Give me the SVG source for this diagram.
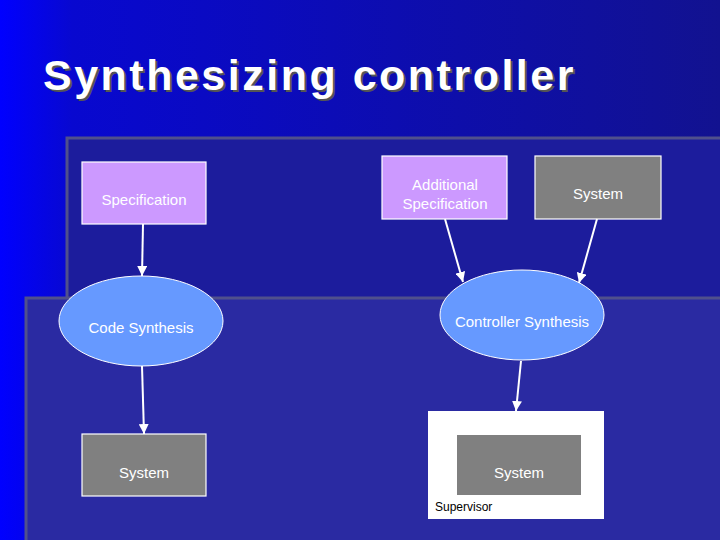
<svg xmlns="http://www.w3.org/2000/svg" width="720" height="540" viewBox="0 0 720 540">
<defs>
<linearGradient id="bg" x1="0" y1="0" x2="1" y2="0">
<stop offset="0" stop-color="#0000ff"/><stop offset="0.1" stop-color="#0808d0"/><stop offset="1" stop-color="#121290"/>
</linearGradient>
<marker id="ah" viewBox="0 0 10 10" refX="10" refY="5" markerWidth="5" markerHeight="5" orient="auto"><path d="M0,0L10,5L0,10z" fill="#fff"/></marker>
<style>
.t{font-family:"Liberation Sans",Arial,sans-serif;fill:#fff;font-size:15px;text-anchor:middle}
.spec{fill:#cc99ff;stroke:#fff;stroke-width:1.2}
.sys{fill:#808080;stroke:#fff;stroke-width:1.2}
.ell{fill:#6699ff;stroke:#fff;stroke-width:1}
.c{stroke:#fff;stroke-width:2;fill:none;marker-end:url(#ah)}
.h{font-family:"Liberation Sans",Arial,sans-serif;font-weight:bold;font-size:43px;letter-spacing:2.5px}
</style>
</defs>
<rect width="720" height="540" fill="url(#bg)"/>
<rect x="66" y="137" width="654" height="160" fill="#1c1c9c"/>
<path d="M67,300V138H720" stroke="#50508c" stroke-width="3" fill="none"/>
<rect x="25" y="297" width="695" height="243" fill="#2a2aa2"/>
<path d="M26,540V298H720" stroke="#50508c" stroke-width="3" fill="none"/>
<text class="h" x="45" y="92" fill="#555">Synthesizing controller</text>
<text class="h" x="43" y="90" fill="#fff">Synthesizing controller</text>
<g id="spec"><rect class="spec" x="82" y="162" width="124" height="62"/><text class="t" x="144" y="205">Specification</text></g>
<g id="codesyn"><ellipse class="ell" cx="141" cy="321" rx="82" ry="45"/><text class="t" x="141" y="333">Code Synthesis</text></g>
<g id="sys1"><rect class="sys" x="82" y="434" width="124" height="62"/><text class="t" x="144" y="478">System</text></g>
<g id="addspec"><rect class="spec" x="382" y="156" width="125" height="63"/><text class="t" x="445" y="190">Additional</text><text class="t" x="445" y="209">Specification</text></g>
<g id="sys2"><rect class="sys" x="535" y="156" width="126" height="63"/><text class="t" x="598" y="199">System</text></g>
<g id="ctrlsyn"><ellipse class="ell" cx="522" cy="315" rx="82" ry="45"/><text class="t" x="522" y="327">Controller Synthesis</text></g>
<g id="supervisor"><rect x="428" y="411" width="176" height="108" fill="#fff"/><rect x="457" y="435" width="124" height="60" fill="#808080"/><text class="t" x="519" y="478">System</text><text x="435" y="511" font-family="Liberation Sans,Arial,sans-serif" font-size="12" fill="#000">Supervisor</text></g>
<g id="connectors">
<path class="c" d="M143,224L142,276"/>
<path class="c" d="M142,366L144,434"/>
<path class="c" d="M445,219L463,282"/>
<path class="c" d="M597,219L579,283"/>
<path class="c" d="M521,361L516,411"/>
</g>
</svg>
